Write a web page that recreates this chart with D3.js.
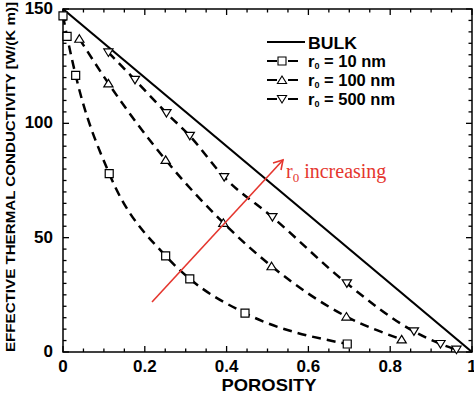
<!DOCTYPE html>
<html>
<head>
<meta charset="utf-8">
<script src="https://cdn.jsdelivr.net/npm/d3@7"></script>
<style>
  body { margin: 0; background: white; }
</style>
</head>
<body>
<div id="chart"></div>
<script>
// data
var porosityBulk = [0, 1];
var kBulk = [150, 0];

var porosity10 = [0, 0.01, 0.031, 0.113, 0.251, 0.31, 0.445, 0.695];
var k10 = [147, 138, 121, 78, 42, 32, 17, 3.5];

var porosity100 = [0.04, 0.111, 0.251, 0.392, 0.51, 0.693, 0.828];
var k100 = [137, 117.5, 84, 56.5, 37.5, 15.5, 5.5];

var porosity500 = [0.111, 0.176, 0.253, 0.31, 0.394, 0.512, 0.694, 0.858, 0.923, 0.962];
var k500 = [131, 119, 104.5, 94.5, 76.5, 59, 30, 9, 3.5, 1];

var xTicks = [0, 0.2, 0.4, 0.6, 0.8, 1];
var yTicks = [0, 50, 100, 150];
var legendLabels = ['BULK', '10 nm', '100 nm', '500 nm'];

var W = 474, H = 396;
var margin = {left: 63, top: 9, right: 2, bottom: 44};
var w = W - margin.left - margin.right;   // 409
var h = H - margin.top - margin.bottom;   // 343
var font = "'Liberation Sans', Arial, sans-serif";

var svg = d3.select('#chart').append('svg')
  .attr('width', W)
  .attr('height', H)
  .attr('style', 'background-color: white');

var x = d3.scaleLinear().domain([0, 1]).range([0, w]);
var y = d3.scaleLinear().domain([0, 150]).range([h, 0]);

var g = svg.append('g')
  .attr('transform', 'translate(' + margin.left + ',' + margin.top + ')');

function zip(xs, ys) {
  return xs.map(function(v, i) { return {p: v, k: ys[i]}; });
}

// inward ticks, minor + major, on all four sides
var xMinor = d3.range(0, 1.0001, 0.05);
var yMinor = d3.range(0, 150.001, 5);
function isMajorX(v) { return xTicks.some(function(t) { return Math.abs(t - v) < 1e-6; }); }
function isMajorY(v) { return yTicks.some(function(t) { return Math.abs(t - v) < 1e-6; }); }

var ticks = g.append('g').attr('stroke', 'black').attr('stroke-width', 1.3);
xMinor.forEach(function(v) {
  var len = isMajorX(v) ? 6 : 3.5;
  ticks.append('line').attr('x1', x(v)).attr('x2', x(v)).attr('y1', h).attr('y2', h - len);
  ticks.append('line').attr('x1', x(v)).attr('x2', x(v)).attr('y1', 0).attr('y2', len);
});
yMinor.forEach(function(v) {
  var len = isMajorY(v) ? 6 : 3.5;
  ticks.append('line').attr('x1', 0).attr('x2', len).attr('y1', y(v)).attr('y2', y(v));
  ticks.append('line').attr('x1', w).attr('x2', w - len).attr('y1', y(v)).attr('y2', y(v));
});

// frame
g.append('rect')
  .attr('x', 0).attr('y', 0)
  .attr('width', w).attr('height', h)
  .attr('fill', 'none')
  .attr('stroke', 'black')
  .attr('stroke-width', 1.5);

// tick labels
g.selectAll('.xlab').data(xTicks).enter().append('text')
  .attr('class', 'xlab')
  .attr('x', function(d) { return x(d); })
  .attr('y', h + 20)
  .attr('text-anchor', 'middle')
  .attr('font-family', font)
  .attr('font-weight', 'bold')
  .attr('font-size', 17)
  .text(function(d) { return d === 0 || d === 1 ? String(d) : d.toFixed(1); });

g.selectAll('.ylab').data(yTicks).enter().append('text')
  .attr('class', 'ylab')
  .attr('x', -10)
  .attr('y', function(d) { return y(d) + 5; })
  .attr('text-anchor', 'end')
  .attr('font-family', font)
  .attr('font-weight', 'bold')
  .attr('font-size', 17)
  .text(function(d) { return d; });

// axis titles
svg.append('text')
  .attr('x', 269)
  .attr('y', 391)
  .attr('text-anchor', 'middle')
  .attr('font-family', font)
  .attr('font-weight', 'bold')
  .attr('font-size', 17)
  .attr('textLength', 95)
  .attr('lengthAdjust', 'spacingAndGlyphs')
  .text('POROSITY');

svg.append('text')
  .attr('transform', 'translate(15,177) rotate(-90)')
  .attr('text-anchor', 'middle')
  .attr('font-family', font)
  .attr('font-weight', 'bold')
  .attr('font-size', 13.5)
  .attr('textLength', 350)
  .attr('lengthAdjust', 'spacingAndGlyphs')
  .text('EFFECTIVE THERMAL CONDUCTIVITY [W/(K m)]');

// lines
var line = d3.line()
  .x(function(d) { return x(d.p); })
  .y(function(d) { return y(d.k); });
var curve = d3.line()
  .curve(d3.curveMonotoneX)
  .x(function(d) { return x(d.p); })
  .y(function(d) { return y(d.k); });

g.append('path')
  .datum(zip(porosityBulk, kBulk))
  .attr('d', line)
  .attr('fill', 'none')
  .attr('stroke', 'black')
  .attr('stroke-width', 2.2);

var series = [
  {data: zip(porosity10, k10), marker: 'square'},
  {data: zip(porosity100, k100), marker: 'up'},
  {data: zip(porosity500, k500), marker: 'down'}
];

series.forEach(function(s) {
  g.append('path')
    .datum(s.data)
    .attr('d', curve)
    .attr('fill', 'none')
    .attr('stroke', 'black')
    .attr('stroke-width', 2.5)
    .attr('stroke-dasharray', '9,6');
});

// marker shapes
function markerPath(type) {
  if (type === 'square') return 'M-4,-4H4V4H-4Z';
  if (type === 'up') return 'M0,-4L4.6,3.5H-4.6Z';
  return 'M0,4L4.6,-3.5H-4.6Z';
}

series.forEach(function(s) {
  g.selectAll(null).data(s.data).enter().append('path')
    .attr('transform', function(d) { return 'translate(' + x(d.p) + ',' + y(d.k) + ')'; })
    .attr('d', markerPath(s.marker))
    .attr('fill', 'white')
    .attr('stroke', 'black')
    .attr('stroke-width', 1.2);
});

// legend
var leg = svg.append('g');
var legY = [42, 61, 80, 99];
leg.append('line')
  .attr('x1', 267).attr('x2', 305)
  .attr('y1', legY[0]).attr('y2', legY[0])
  .attr('stroke', 'black').attr('stroke-width', 2.2);
leg.append('text')
  .attr('x', 308).attr('y', legY[0] + 7)
  .attr('font-family', font).attr('font-weight', 'bold').attr('font-size', 16.5)
  .attr('textLength', 49)
  .attr('lengthAdjust', 'spacingAndGlyphs')
  .text(legendLabels[0]);

series.forEach(function(s, i) {
  var yy = legY[i + 1];
  leg.append('line')
    .attr('x1', 267).attr('x2', 277).attr('y1', yy).attr('y2', yy)
    .attr('stroke', 'black').attr('stroke-width', 2);
  leg.append('line')
    .attr('x1', 288).attr('x2', 298).attr('y1', yy).attr('y2', yy)
    .attr('stroke', 'black').attr('stroke-width', 2);
  leg.append('path')
    .attr('transform', 'translate(282,' + yy + ')')
    .attr('d', markerPath(s.marker))
    .attr('fill', 'white')
    .attr('stroke', 'black')
    .attr('stroke-width', 1.1);
  var t = leg.append('text')
    .attr('x', 308).attr('y', yy + 6)
    .attr('font-family', font).attr('font-weight', 'bold').attr('font-size', 16.5);
  t.append('tspan').text('r');
  t.append('tspan').attr('font-size', 9).attr('dy', 2).text('0');
  t.append('tspan').attr('dy', -2).text(' = ' + legendLabels[i + 1]);
});

// red annotation arrow
var red = '#e5362e';
svg.append('line')
  .attr('x1', 152).attr('y1', 302)
  .attr('x2', 283).attr('y2', 160)
  .attr('stroke', red).attr('stroke-width', 1.6);
svg.append('path')
  .attr('d', 'M273,163L283,160L281,170')
  .attr('fill', 'none')
  .attr('stroke', red).attr('stroke-width', 1.6);

var ann = svg.append('text')
  .attr('x', 286).attr('y', 178)
  .attr('font-family', "'Liberation Serif', 'Times New Roman', serif")
  .attr('font-size', 20)
  .attr('fill', red);
ann.append('tspan').text('r');
ann.append('tspan').attr('font-size', 13).attr('dy', 4).text('0');
ann.append('tspan').attr('dy', -4).text(' increasing');
</script>
</body>
</html>
